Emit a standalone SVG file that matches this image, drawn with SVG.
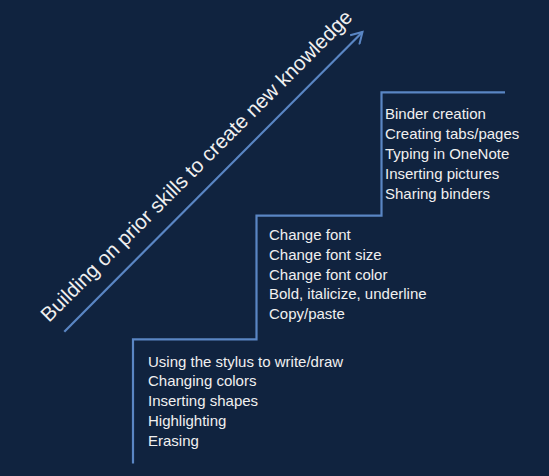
<svg xmlns="http://www.w3.org/2000/svg" width="549" height="476" viewBox="0 0 549 476">
<style>
.bg{fill:#10233f}
.ln{fill:none;stroke:#5a86c4;stroke-width:2.2}
.t{font-family:"Liberation Sans",Arial,sans-serif;font-size:15px;fill:#f0f0f0}
.big{font-family:"Liberation Sans",Arial,sans-serif;font-size:20.5px;fill:#f0f0f0}
</style>
<defs>
<marker id="open" viewBox="0 0 14 14" refX="12" refY="7" markerWidth="14" markerHeight="14" markerUnits="userSpaceOnUse" orient="auto">
<path d="M1,0.5 L12,7 L1,13.5" fill="none" stroke="#5a86c4" stroke-width="2"/>
</marker>
</defs>
<rect class="bg" x="0" y="0" width="549" height="476"/>
<g id="connectors">
<path id="stairs" class="ln" d="M133,463.5 V339.3 H256.5 V215.7 H381.5 V92.3 H505"/>
<path id="arrow" class="ln" d="M64.3,331.7 L362.5,32" marker-end="url(#open)"/>
</g>
<g id="title">
<text class="big" transform="translate(49,323) rotate(-45)">Building on prior skills to create new knowledge</text>
</g>
<g id="step1">
<text class="t" x="148" y="366.6">Using the stylus to write/draw</text>
<text class="t" x="148" y="386.4">Changing colors</text>
<text class="t" x="148" y="406.2">Inserting shapes</text>
<text class="t" x="148" y="426">Highlighting</text>
<text class="t" x="148" y="445.8">Erasing</text>
</g>
<g id="step2">
<text class="t" x="269" y="240">Change font</text>
<text class="t" x="269" y="259.8">Change font size</text>
<text class="t" x="269" y="279.6">Change font color</text>
<text class="t" x="269" y="299.4">Bold, italicize, underline</text>
<text class="t" x="269" y="319.2">Copy/paste</text>
</g>
<g id="step3">
<text class="t" x="385" y="119.3">Binder creation</text>
<text class="t" x="385" y="139.1">Creating tabs/pages</text>
<text class="t" x="385" y="158.9">Typing in OneNote</text>
<text class="t" x="385" y="178.7">Inserting pictures</text>
<text class="t" x="385" y="198.5">Sharing binders</text>
</g>
</svg>
